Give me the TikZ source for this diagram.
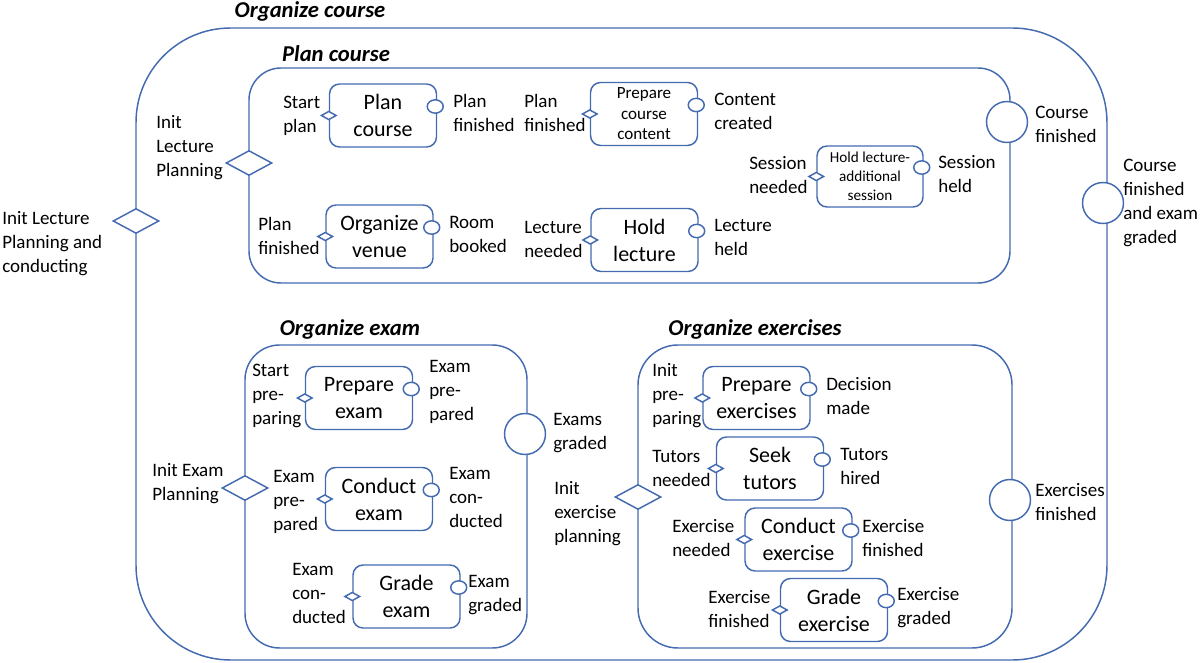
\documentclass[tikz,border=0pt]{standalone}
\usepackage{fontspec}
\setmainfont{Carlito}
\usetikzlibrary{shapes.geometric,calc}
\definecolor{bl}{RGB}{68,106,176}
\newcommand\flbl{\fontsize{14.25}{18}\selectfont}
\newcommand\fact{\fontsize{16.5}{20.25}\selectfont}
\newcommand\fsml{\fontsize{12.8}{15.4}\selectfont}
\newcommand\ftny{\fontsize{11.4}{14.2}\selectfont}
\newcommand\fttl{\fontsize{17}{20}\selectfont\bfseries\itshape}
\tikzset{
  lc/.style={draw=bl, line width=1.1pt},
  cont/.style={lc, rectangle, inner sep=0pt},
  act/.style={lc, rectangle, rounded corners=7.5pt, minimum width=80.25pt, minimum height=47.25pt, align=center, inner sep=0pt, font=\fact},
  pin/.style={lc, fill=white, diamond, inner sep=0pt, minimum width=11.5pt, minimum height=6.5pt},
  pout/.style={lc, fill=white, ellipse, inner sep=0pt, minimum width=12pt, minimum height=10pt},
  bigin/.style={lc, fill=white, diamond, inner sep=0pt, minimum width=34.5pt, minimum height=18.75pt},
  bigout/.style={lc, fill=white, circle, inner sep=0pt, minimum size=30.75pt},
  lbl/.style={anchor=west, align=left, inner sep=0pt, font=\flbl},
  ttl/.style={inner sep=0pt, font=\fttl},
}
\begin{document}
\begin{tikzpicture}[x=0.75pt,y=-0.75pt]
\useasboundingbox (0,0) rectangle (1200,663);
% containers
\node[cont, rounded corners=71pt, minimum width=728.25pt, minimum height=474pt] (orgcourse) at (621.5,344) {};
\node[cont, rounded corners=24pt, minimum width=570.75pt, minimum height=161.25pt] (plancourse) at (629.5,175.5) {};
\node[cont, rounded corners=26pt, minimum width=211.5pt, minimum height=227.25pt] (orgexam) at (386,496.5) {};
\node[cont, rounded corners=30pt, minimum width=280.5pt, minimum height=227.25pt] (orgexer) at (825,496.5) {};
% titles
\node[ttl] (t1) at (310,11) {Organize course};
\node[ttl] (t2) at (336,54) {Plan course};
\node[ttl] (t3) at (350,329) {Organize exam};
\node[ttl] (t4) at (755,329) {Organize exercises};
% activities
\node[act] (planc) at (383,115.5) {Plan\\course};
\node[act, font=\fsml] (prepcc) at (644,114) {Prepare\\course\\content};
\node[act, font=\ftny, minimum width=79.5pt, minimum height=45.75pt] (holdadd) at (870,176.5) {Hold lecture-\\additional\\session};
\node[act] (orgven) at (379.5,236.5) {Organize\\venue};
\node[act] (holdlec) at (644.5,240) {Hold\\lecture};
\node[act] (prepex) at (359,398) {Prepare\\exam};
\node[act] (condex) at (379,499) {Conduct\\exam};
\node[act] (gradex) at (406.5,596.5) {Grade\\exam};
\node[act] (prepexer) at (756.5,398) {Prepare\\exercises};
\node[act] (seek) at (770,468.5) {Seek\\tutors};
\node[act] (condexer) at (798.5,539.5) {Conduct\\exercise};
\node[act] (gradexer) at (834,610) {Grade\\exercise};
\foreach \n in {planc,prepcc,holdadd,orgven,holdlec,prepex,condex,gradex,prepexer,seek,condexer,gradexer}{
  \node[pin] (\n-in) at (\n.west) {};
  \node[pout] (\n-out) at ($(\n.east)+(-2,-9)$) {};
}
% big ports
\node[bigin] (initlpc) at (136,221) {};
\node[bigin] (initlp) at (249,163) {};
\node[bigout] (coursefin) at (1007,122) {};
\node[bigout] (cfeg) at (1103,203) {};
\node[bigout] (examsgr) at (525,434) {};
\node[bigin] (initexam) at (245,488) {};
\node[bigin] (initexer) at (638,497) {};
\node[bigout] (exfin) at (1010,500) {};
% labels
\node[lbl] (l1) at (283,116) {Start\\plan};
\node[lbl] (l2) at (453,113) {Plan\\finished};
\node[lbl] (l3) at (524,113) {Plan\\finished};
\node[lbl] (l4) at (714,111) {Content\\created};
\node[lbl] (l5) at (749,175) {Session\\needed};
\node[lbl] (l6) at (938,174) {Session\\held};
\node[lbl] (l7) at (258,236) {Plan\\finished};
\node[lbl] (l8) at (449,234) {Room\\booked};
\node[lbl] (l9) at (524,239) {Lecture\\needed};
\node[lbl] (l10) at (714,237) {Lecture\\held};
\node[lbl] (l11) at (156,148) {Init\\Lecture\\Planning};
\node[lbl] (l12) at (2,244) {Init Lecture\\Planning and\\conducting};
\node[lbl] (l13) at (1035,124) {Course\\finished};
\node[lbl] (l14) at (1123,203) {Course\\finished\\and exam\\graded};
\node[lbl] (l15) at (553,433) {Exams\\graded};
\node[lbl] (l16) at (252,396) {Start\\pre-\\paring};
\node[lbl] (l17) at (429,392) {Exam\\pre-\\pared};
\node[lbl] (l18) at (152,484) {Init Exam\\Planning};
\node[lbl] (l19) at (273,502) {Exam\\pre-\\pared};
\node[lbl] (l20) at (449,497) {Exam\\con-\\ducted};
\node[lbl] (l21) at (292,593) {Exam\\con-\\ducted};
\node[lbl] (l22) at (468,595) {Exam\\graded};
\node[lbl] (l23) at (652,396) {Init\\pre-\\paring};
\node[lbl] (l24) at (826,396) {Decision\\made};
\node[lbl] (l25) at (652,468) {Tutors\\needed};
\node[lbl] (l26) at (840,466) {Tutors\\hired};
\node[lbl] (l27) at (554,514) {Init\\exercise\\planning};
\node[lbl] (l28) at (1035,502) {Exercises\\finished};
\node[lbl] (l29) at (672,538) {Exercise\\needed};
\node[lbl] (l30) at (862,538) {Exercise\\finished};
\node[lbl] (l31) at (708,609) {Exercise\\finished};
\node[lbl] (l32) at (897,608) {Exercise\\graded};
\end{tikzpicture}
\end{document}
